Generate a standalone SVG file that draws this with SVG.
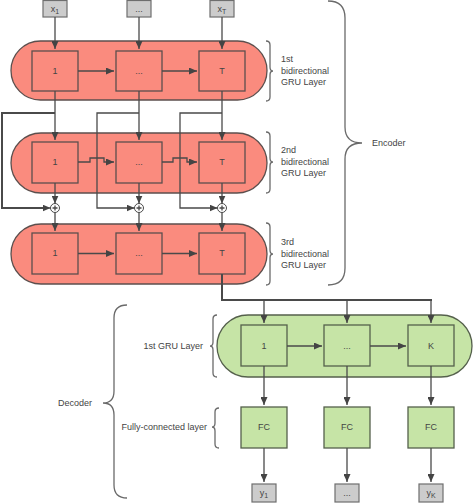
<svg xmlns="http://www.w3.org/2000/svg" width="474" height="503" viewBox="0 0 474 503">
<style>
text{font-family:"Liberation Sans",Arial,sans-serif;font-size:9px;fill:#444}
.c{text-anchor:middle}
.e{text-anchor:end}
.enc{fill:#fa8b7e;stroke:#5c4f4d;stroke-width:1.3}
.dec{fill:#c6e4a6;stroke:#55604c;stroke-width:1.3}
.io{fill:#cccccc;stroke:#6e6e6e;stroke-width:1.2}
.ln{fill:none;stroke:#4a4a4a;stroke-width:1.3}
.th{fill:none;stroke:#4a4a4a;stroke-width:2}
.br{fill:none;stroke:#6a6a6a;stroke-width:1.3}
.sum{fill:#ffffff;stroke:#4a4a4a;stroke-width:1}
</style>
<defs>
<marker id="a" markerUnits="userSpaceOnUse" markerWidth="8" markerHeight="7" refX="8" refY="3.5" orient="auto">
<path d="M0,0 L8,3.5 L0,7 z" fill="#444"/>
</marker>
</defs>

<g id="encoder-layer1">
<rect class="enc" x="11" y="41" width="256" height="59" rx="29.5"/>
<rect class="enc" x="32" y="51" width="46" height="40"/><text class="c" x="55" y="74">1</text>
<rect class="enc" x="116" y="51" width="46" height="40"/><text class="c" x="139" y="74">...</text>
<rect class="enc" x="199" y="51" width="46" height="40"/><text class="c" x="222" y="74">T</text>
</g>
<g id="encoder-layer2">
<rect class="enc" x="11" y="133" width="256" height="60" rx="30"/>
<rect class="enc" x="32" y="142" width="46" height="41"/><text class="c" x="55" y="165">1</text>
<rect class="enc" x="116" y="142" width="46" height="41"/><text class="c" x="139" y="165">...</text>
<rect class="enc" x="199" y="142" width="46" height="41"/><text class="c" x="222" y="165">T</text>
</g>
<g id="encoder-layer3">
<rect class="enc" x="11" y="224" width="256" height="60" rx="30"/>
<rect class="enc" x="32" y="233" width="46" height="41"/><text class="c" x="55" y="256">1</text>
<rect class="enc" x="116" y="233" width="46" height="41"/><text class="c" x="139" y="256">...</text>
<rect class="enc" x="199" y="233" width="46" height="41"/><text class="c" x="222" y="256">T</text>
</g>
<g id="decoder-gru">
<rect class="dec" x="217" y="315" width="255" height="62" rx="31"/>
<rect class="dec" x="241" y="325" width="46" height="41"/><text class="c" x="264" y="349">1</text>
<rect class="dec" x="324" y="325" width="46" height="41"/><text class="c" x="347" y="349">...</text>
<rect class="dec" x="408" y="325" width="46" height="41"/><text class="c" x="431" y="349">K</text>
</g>
<g id="decoder-fc">
<rect class="dec" x="241" y="407" width="46" height="41"/><text class="c" x="264" y="430">FC</text>
<rect class="dec" x="324" y="407" width="46" height="41"/><text class="c" x="347" y="430">FC</text>
<rect class="dec" x="408" y="407" width="46" height="41"/><text class="c" x="431" y="430">FC</text>
</g>
<g id="inputs">
<rect class="io" x="43" y="0.5" width="24" height="16.5"/><text class="c" x="55" y="12">x<tspan font-size="7" dy="1.5">1</tspan></text>
<rect class="io" x="127" y="0.5" width="24" height="16.5"/><text class="c" x="139" y="12">...</text>
<rect class="io" x="210" y="0.5" width="24" height="16.5"/><text class="c" x="222" y="12">x<tspan font-size="7" dy="1.5">T</tspan></text>
</g>
<g id="outputs">
<rect class="io" x="252" y="484" width="24" height="18"/><text class="c" x="264" y="496">y<tspan font-size="7" dy="1.5">1</tspan></text>
<rect class="io" x="335" y="484" width="24" height="18"/><text class="c" x="347" y="496">...</text>
<rect class="io" x="419" y="484" width="24" height="18"/><text class="c" x="431" y="496">y<tspan font-size="7" dy="1.5">K</tspan></text>
</g>
<g id="sums">
<circle class="sum" cx="55" cy="208" r="4.5"/><path class="ln" stroke-width="0.9" d="M52.5,208H57.5M55,205.5V210.5"/>
<circle class="sum" cx="139" cy="208" r="4.5"/><path class="ln" stroke-width="0.9" d="M136.5,208H141.5M139,205.5V210.5"/>
<circle class="sum" cx="222" cy="208" r="4.5"/><path class="ln" stroke-width="0.9" d="M219.5,208H224.5M222,205.5V210.5"/>
</g>

<g id="connectors">
<!-- inputs to layer 1 -->
<path class="ln" marker-end="url(#a)" d="M55,17V49"/>
<path class="ln" marker-end="url(#a)" d="M139,17V49"/>
<path class="ln" marker-end="url(#a)" d="M222,17V49"/>
<!-- layer 1 recurrence -->
<path class="ln" marker-end="url(#a)" d="M78,71H114"/>
<path class="ln" marker-end="url(#a)" d="M162,71H197"/>
<!-- layer 1 to layer 2 -->
<path class="ln" marker-end="url(#a)" d="M55,91V140"/>
<path class="ln" marker-end="url(#a)" d="M139,91V140"/>
<path class="ln" marker-end="url(#a)" d="M222,91V140"/>
<!-- skip connections -->
<path class="th" d="M55,113H2V208H46"/>
<path class="ln" marker-end="url(#a)" d="M44,208H50.5"/>
<path class="ln" marker-end="url(#a)" d="M139,113H97V208H134.5"/>
<path class="ln" marker-end="url(#a)" d="M222,113H180V208H217.5"/>
<!-- layer 2 recurrence with hops -->
<path class="ln" marker-end="url(#a)" d="M78,162H90V158H104V162H114"/>
<path class="ln" marker-end="url(#a)" d="M162,162H173V158H187V162H197"/>
<!-- layer 2 to sums -->
<path class="ln" marker-end="url(#a)" d="M55,183V203.5"/>
<path class="ln" marker-end="url(#a)" d="M139,183V203.5"/>
<path class="ln" marker-end="url(#a)" d="M222,183V203.5"/>
<!-- sums to layer 3 -->
<path class="ln" marker-end="url(#a)" d="M55,212.5V231"/>
<path class="ln" marker-end="url(#a)" d="M139,212.5V231"/>
<path class="ln" marker-end="url(#a)" d="M222,212.5V231"/>
<!-- layer 3 recurrence -->
<path class="ln" marker-end="url(#a)" d="M78,253.5H114"/>
<path class="ln" marker-end="url(#a)" d="M162,253.5H197"/>
<!-- encoder to decoder -->
<path class="th" d="M222,274V300H432"/>
<path class="ln" marker-end="url(#a)" d="M264,300V323"/>
<path class="ln" marker-end="url(#a)" d="M347,300V323"/>
<path class="ln" marker-end="url(#a)" d="M431,300V323"/>
<!-- decoder recurrence -->
<path class="ln" marker-end="url(#a)" d="M287,346H322"/>
<path class="ln" marker-end="url(#a)" d="M370,346H406"/>
<!-- GRU to FC -->
<path class="ln" marker-end="url(#a)" d="M264,366V405"/>
<path class="ln" marker-end="url(#a)" d="M347,366V405"/>
<path class="ln" marker-end="url(#a)" d="M431,366V405"/>
<!-- FC to outputs -->
<path class="ln" marker-end="url(#a)" d="M264,448V482"/>
<path class="ln" marker-end="url(#a)" d="M347,448V482"/>
<path class="ln" marker-end="url(#a)" d="M431,448V482"/>
</g>

<g id="labels">
<path class="br" d="M266,41Q270,41 270,45V67Q270,71 273,71Q270,71 270,75V97Q270,101 266,101"/>
<text x="281" y="62">1st</text><text x="281" y="73.5">bidirectional</text><text x="281" y="85">GRU Layer</text>
<path class="br" d="M266,132Q270,132 270,136V158Q270,162 273,162Q270,162 270,166V189Q270,193 266,193"/>
<text x="281" y="153">2nd</text><text x="281" y="164.5">bidirectional</text><text x="281" y="176">GRU Layer</text>
<path class="br" d="M266,223Q270,223 270,227V250Q270,254 273,254Q270,254 270,258V281Q270,285 266,285"/>
<text x="281" y="245">3rd</text><text x="281" y="256.5">bidirectional</text><text x="281" y="268">GRU Layer</text>
<path class="br" d="M328,1Q345,1 345,18V127Q345,143 362,143Q345,143 345,159V268Q345,285 328,285"/>
<text x="372" y="146">Encoder</text>
<path class="br" d="M127,305Q114,305 114,318V391Q114,403 103,403Q114,403 114,415V485Q114,498 127,498"/>
<text class="e" x="92" y="406">Decoder</text>
<path class="br" d="M217,315Q213,315 213,319V342Q213,346 210,346Q213,346 213,350V373Q213,377 217,377"/>
<text class="e" x="203" y="349">1st GRU Layer</text>
<path class="br" d="M219,408Q215,408 215,412V423Q215,427 212,427Q215,427 215,431V444Q215,448 219,448"/>
<text class="e" x="207" y="430">Fully-connected layer</text>
</g>
</svg>
